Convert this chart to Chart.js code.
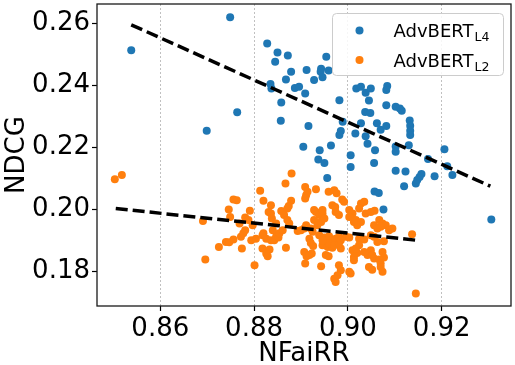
<!DOCTYPE html>
<html><head><meta charset="utf-8">
<script src="https://cdn.jsdelivr.net/npm/chart.js@4"></script>
<style>html,body{margin:0;padding:0;background:#fff}canvas{display:block}</style>
</head><body>
<canvas id="c" width="515" height="365"></canvas>
<script>
const xTicks=[0.86,0.88,0.90,0.92];
const yTicks=[0.18,0.20,0.22,0.24,0.26];
const seriesNames=['AdvBERT','AdvBERT'];
const seriesSubs=['L4','L2'];
const seriesColors=['#1f77b4','#ff7f0e'];

const l4X=[0.8538,0.8749,0.8828,0.8850,0.8872,0.8845,0.8879,0.8912,0.8868,0.8835,0.8837,0.8887,0.8896,0.8909,0.8858,0.8764,0.8857,0.8699,0.8916,0.8905,0.8954,0.8943,0.8959,0.8942,0.8928,0.8946,0.8982,0.8989,0.8985,0.8982,0.9018,0.9028,0.9038,0.9049,0.9045,0.9037,0.9048,0.9028,0.9016,0.9038,0.9042,0.9062,0.9070,0.9082,0.9084,0.9082,0.9082,0.9102,0.9111,0.9115,0.9132,0.9133,0.9133,0.9133,0.9058,0.9102,0.9102,0.9130,0.9006,0.9006,0.8940,0.8964,0.8937,0.8950,0.8956,0.9056,0.9171,0.9206,0.9212,0.9223,0.9102,0.9123,0.9120,0.9145,0.9148,0.9153,0.9157,0.9185,0.9057,0.9066,0.9076,0.9306];
const l4Y=[0.2513,0.2619,0.2535,0.2506,0.2496,0.2476,0.2444,0.2449,0.2419,0.2404,0.2390,0.2391,0.2395,0.2374,0.2345,0.2313,0.2286,0.2254,0.2269,0.2202,0.2492,0.2453,0.2448,0.2444,0.2417,0.2426,0.2352,0.2283,0.2253,0.2240,0.2390,0.2395,0.2376,0.2390,0.2351,0.2314,0.2311,0.2278,0.2245,0.2236,0.2212,0.2278,0.2257,0.2269,0.2398,0.2385,0.2336,0.2331,0.2325,0.2318,0.2287,0.2270,0.2254,0.2240,0.2191,0.2203,0.2186,0.2207,0.2175,0.2137,0.2191,0.2206,0.2161,0.2150,0.2101,0.2150,0.2163,0.2194,0.2139,0.2111,0.2125,0.2122,0.2075,0.2084,0.2095,0.2105,0.2114,0.2107,0.2058,0.2053,0.2000,0.1968];

const l2X=[0.8503,0.8518,0.8691,0.8696,0.8725,0.8740,0.8747,0.8756,0.8746,0.8756,0.8763,0.8749,0.8774,0.8772,0.8777,0.8781,0.8769,0.8781,0.8788,0.8791,0.8797,0.8794,0.8804,0.8801,0.8813,0.8820,0.8818,0.8826,0.8818,0.8833,0.8826,0.8829,0.8836,0.8831,0.8836,0.8838,0.8840,0.8847,0.8836,0.8843,0.8852,0.8854,0.8861,0.8847,0.8858,0.8864,0.8871,0.8868,0.8867,0.8880,0.8879,0.8874,0.8871,0.8875,0.8893,0.8909,0.8911,0.8914,0.8909,0.8909,0.8912,0.8932,0.8959,0.8971,0.8976,0.8988,0.8992,0.8967,0.8973,0.8932,0.8939,0.8946,0.8928,0.8935,0.8943,0.8950,0.8928,0.8946,0.8974,0.8981,0.9003,0.9010,0.9028,0.9035,0.9024,0.9038,0.9049,0.9057,0.9017,0.9028,0.9020,0.9003,0.9013,0.9067,0.9074,0.9056,0.9063,0.9081,0.9070,0.9088,0.9095,0.9137,0.8900,0.8907,0.8911,0.8921,0.8925,0.8918,0.8939,0.8950,0.8960,0.8967,0.8974,0.8981,0.8921,0.8946,0.8957,0.8967,0.8985,0.8996,0.9003,0.9024,0.9035,0.9024,0.9056,0.9049,0.9077,0.9063,0.8907,0.8918,0.8923,0.8926,0.8953,0.8959,0.8960,0.8971,0.8981,0.9010,0.9020,0.9013,0.9017,0.9013,0.9049,0.9042,0.9052,0.9056,0.9035,0.9074,0.9077,0.9067,0.9070,0.8943,0.8981,0.8985,0.8978,0.9003,0.9006,0.9045,0.9052,0.9070,0.9074,0.8971,0.8974,0.9145,0.8820,0.8946,0.8985];
const l2Y=[0.2097,0.2111,0.1963,0.1839,0.1879,0.1895,0.1894,0.1903,0.2000,0.2032,0.2030,0.1976,0.1874,0.1912,0.1923,0.1933,0.1955,0.1974,0.1966,0.1996,0.1949,0.1901,0.1906,0.1820,0.2060,0.2028,0.1917,0.1906,0.1874,0.1871,0.1858,0.1849,0.2014,0.1992,0.1987,0.1971,0.1933,0.1912,0.1901,0.1901,0.1910,0.1923,0.1933,0.1955,0.1995,0.1982,0.2003,0.1877,0.2084,0.2116,0.2028,0.2011,0.1966,0.1955,0.1931,0.2072,0.2046,0.2057,0.2035,0.1826,0.1849,0.2065,0.2057,0.2062,0.2052,0.2032,0.2025,0.2014,0.2008,0.1992,0.1982,0.1987,0.1966,0.1949,0.1960,0.1971,0.1998,0.1998,0.1992,0.1982,0.1998,0.1987,0.2019,0.2025,0.2003,0.1987,0.1992,0.1996,0.1966,0.1960,0.1949,0.1976,0.1960,0.1966,0.1955,0.1949,0.1939,0.1949,0.1944,0.1933,0.1939,0.1920,0.1933,0.1939,0.1949,0.1939,0.1928,0.1906,0.1917,0.1910,0.1914,0.1901,0.1906,0.1912,0.1892,0.1885,0.1879,0.1877,0.1874,0.1912,0.1910,0.1906,0.1903,0.1885,0.1912,0.1917,0.1898,0.1895,0.1863,0.1853,0.1858,0.1882,0.1853,0.1849,0.1890,0.1885,0.1890,0.1869,0.1860,0.1847,0.1874,0.1836,0.1869,0.1853,0.1853,0.1842,0.1863,0.1863,0.1845,0.1839,0.1826,0.1817,0.1820,0.1804,0.1788,0.1799,0.1794,0.1815,0.1806,0.1815,0.1799,0.1777,0.1766,0.1729,0.1923,0.1901,0.1901];

const fitL4X=[0.8538,0.9304];
const fitL4Y=[0.2595,0.2075];
const fitL2X=[0.8505,0.9145];
const fitL2Y=[0.2003,0.1901];

const pts=(xs,ys)=>xs.map((x,i)=>({x:x,y:ys[i]}));
const FONT='"DejaVu Sans", sans-serif';

const framePlugin={
  id:'frame',
  afterDatasetsDraw(chart){
    const {ctx,chartArea:a}=chart;
    ctx.save();
    ctx.strokeStyle='#1a1a1a';ctx.lineWidth=1.3;
    ctx.strokeRect(a.left,a.top,a.right-a.left,a.bottom-a.top);
    ctx.restore();
  }
};
const legendPlugin={
  id:'mplLegend',
  afterDraw(chart){
    const {ctx,chartArea:a}=chart;
    const bx=a.right-178.5, by=a.top+9.5, bw=171, bh=62, r=4;
    ctx.save();
    ctx.beginPath();
    ctx.moveTo(bx+r,by);ctx.lineTo(bx+bw-r,by);ctx.arcTo(bx+bw,by,bx+bw,by+r,r);
    ctx.lineTo(bx+bw,by+bh-r);ctx.arcTo(bx+bw,by+bh,bx+bw-r,by+bh,r);
    ctx.lineTo(bx+r,by+bh);ctx.arcTo(bx,by+bh,bx,by+bh-r,r);
    ctx.lineTo(bx,by+r);ctx.arcTo(bx,by,bx+r,by,r);ctx.closePath();
    ctx.fillStyle='rgba(255,255,255,0.85)';ctx.fill();
    ctx.strokeStyle='#cccccc';ctx.lineWidth=1;ctx.stroke();
    for(let i=0;i<seriesNames.length;i++){
      const cy=by+17+i*29.5;
      ctx.beginPath();ctx.arc(bx+27,cy,4,0,Math.PI*2);
      ctx.fillStyle=seriesColors[i];ctx.fill();
      ctx.fillStyle='#000';ctx.textBaseline='alphabetic';ctx.textAlign='left';
      ctx.font='18px '+FONT;
      ctx.fillText(seriesNames[i],bx+61,cy+6.5);
      const w=ctx.measureText(seriesNames[i]).width;
      ctx.font='12.5px '+FONT;
      ctx.fillText(seriesSubs[i],bx+61+w+1,cy+10.5);
    }
    ctx.restore();
  }
};

new Chart(document.getElementById('c'),{
  type:'scatter',
  data:{datasets:[
    {type:'line',label:'fit L4',data:pts(fitL4X,fitL4Y),borderColor:'#000',borderWidth:3.5,borderDash:[12,5],pointRadius:0,fill:false,order:0},
    {type:'line',label:'fit L2',data:pts(fitL2X,fitL2Y),borderColor:'#000',borderWidth:3.5,borderDash:[12,5],pointRadius:0,fill:false,order:0},
    {label:'AdvBERT_L2',data:pts(l2X,l2Y),backgroundColor:seriesColors[1],borderWidth:0,pointRadius:4,order:1},
    {label:'AdvBERT_L4',data:pts(l4X,l4Y),backgroundColor:seriesColors[0],borderWidth:0,pointRadius:4,order:2}
  ]},
  options:{
    responsive:false,animation:false,devicePixelRatio:1,
    layout:{padding:{left:0,right:3,top:4,bottom:0}},
    plugins:{legend:{display:false},tooltip:{enabled:false}},
    scales:{
      x:{type:'linear',min:0.8465,max:0.9348,
        afterBuildTicks:s=>{s.ticks=xTicks.map(v=>({value:v}));},
        afterFit:s=>{s.height=59;s.paddingLeft=0;s.paddingRight=0;},
        ticks:{callback:v=>v.toFixed(2),font:{family:FONT,size:26},color:'#000',padding:3,maxRotation:0,autoSkip:false},
        grid:{color:'#b0b0b0',lineWidth:0.8,tickColor:'#000',tickLength:5,tickWidth:1.2,tickBorderDash:[]},
        border:{display:false,dash:[2,2]},
        title:{display:true,text:'NFaiRR',font:{family:FONT,size:26,lineHeight:0.8},padding:0,color:'#000'}
      },
      y:{type:'linear',min:0.1689,max:0.2662,
        afterBuildTicks:s=>{s.ticks=yTicks.map(v=>({value:v}));},
        afterFit:s=>{s.width=97;s.paddingTop=0;s.paddingBottom=0;},
        ticks:{callback:v=>v.toFixed(2),font:{family:FONT,size:26},color:'#000',padding:2,autoSkip:false},
        grid:{drawOnChartArea:false,tickColor:'#000',tickLength:5,tickWidth:1.2},
        border:{display:false},
        title:{display:true,text:'NDCG',font:{family:FONT,size:26,lineHeight:1.2},padding:{top:2,bottom:0},color:'#000'}
      }
    }
  },
  plugins:[framePlugin,legendPlugin]
});
</script>
</body></html>
